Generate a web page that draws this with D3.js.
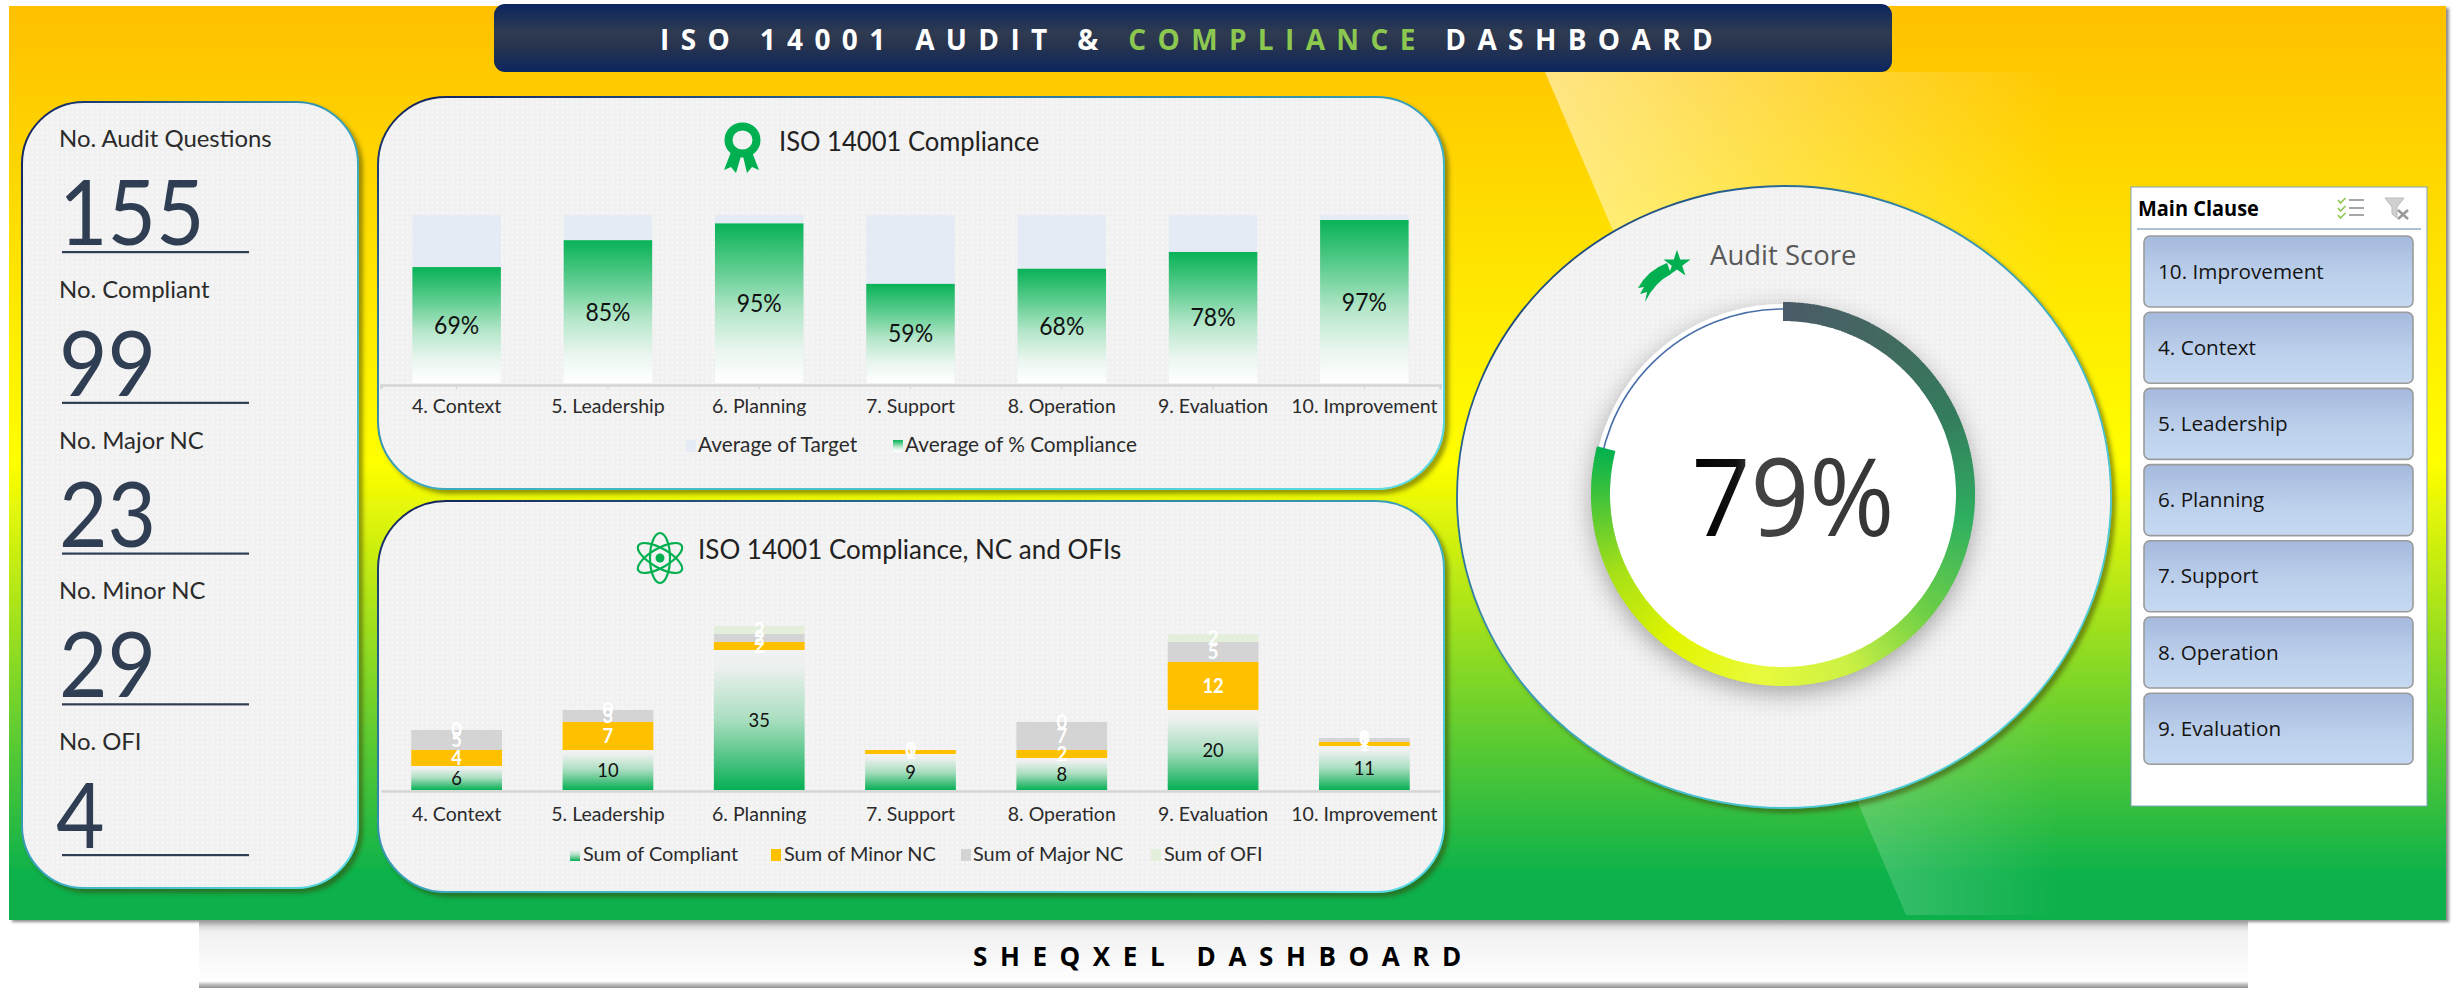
<!DOCTYPE html>
<html><head><meta charset="utf-8">
<script src="https://cdn.jsdelivr.net/npm/d3@7"></script>
<style>html,body{margin:0;padding:0;background:#fff;overflow:hidden}svg{display:block}</style>
</head><body><div id="c"></div>
<script>
// ---------- data ----------
const categories = ["4. Context","5. Leadership","6. Planning","7. Support","8. Operation","9. Evaluation","10. Improvement"];
const target = [100,100,100,100,100,100,100];
const compliance = [69,85,95,59,68,78,97];
const sumCompliant = [6,10,35,9,8,20,11];
const sumMinor = [4,7,2,1,2,12,1];
const sumMajor = [5,3,2,0,7,5,1];
const sumOFI = [0,0,2,0,0,2,0];
const kpiLabels = ["No. Audit Questions","No. Compliant","No. Major NC","No. Minor NC","No. OFI"];
const kpiValues = [155,99,23,29,4];
const slicerItems = ["10. Improvement","4. Context","5. Leadership","6. Planning","7. Support","8. Operation","9. Evaluation"];
const auditScore = 79;

const W=2460,H=998, GREEN="#00B050", SLATE="#2F3E52";
const geo='Lato, sans-serif', ui='"Open Sans", sans-serif';
const svg=d3.select("#c").append("svg").attr("width",W).attr("height",H).attr("viewBox",`0 0 ${W} ${H}`);
const defs=svg.append("defs");
function grad(id,stops,o={}){const g=defs.append("linearGradient").attr("id",id)
  .attr("x1",o.x1||0).attr("y1",o.y1||0).attr("x2",o.x2===undefined?0:o.x2).attr("y2",o.y2===undefined?1:o.y2);
  stops.forEach(s=>g.append("stop").attr("offset",s[0]).attr("stop-color",s[1]).attr("stop-opacity",s[2]===undefined?1:s[2]));return `url(#${id})`;}
const bgFill=grad("bg",[[0,"#FFC000"],[.5,"#FFFF00"],[.96,"#08B04C"],[1,"#08B04C"]]);
const titleFill=grad("tb",[[0,"#0A2560"],[.42,"#2F3B50"],[.62,"#27344F"],[1,"#0B2660"]]);
const footFill=grad("ft",[[0,"#9b9b9b"],[.08,"#d8d8d8"],[.16,"#f1f1f1"],[.9,"#ffffff"],[.95,"#bdbdbd"],[1,"#8f8f8f"]]);
const borderStroke=grad("bd",[[0,"#141F5A"],[.25,"#2A6C96"],[.6,"#40B8C8"],[1,"#5CDDE6"]],{x2:1,y2:1});
const beam=grad("bm",[[0,"#fff",.52],[.45,"#fff",.28],[1,"#fff",0]],{x2:1,y2:0});
const barDown=grad("bd1",[[0,"#08B257"],[.3,"#62CE92"],[.55,"#B4E6C9"],[.8,"#EAF6EF"],[1,"#ffffff"]]);
const barUp=grad("bu1",[[0,"#F2F2F2"],[.12,"#ECF0EE"],[.5,"#A9DEC0"],[.8,"#49C17F"],[1,"#05B054"]]);
const btnFill=grad("bt",[[0,"#A4B9DC"],[.55,"#BCD0EC"],[1,"#C6D9F1"]]);
const numFill=grad("nf",[[0,"#000"],[.22,"#111"],[.3,"#444"],[1,"#333"]],{x2:1,y2:0});
const dots=defs.append("pattern").attr("id","dots").attr("width",5).attr("height",5).attr("patternUnits","userSpaceOnUse");
dots.append("rect").attr("width",5).attr("height",5).attr("fill","#F1F1F1");
dots.append("circle").attr("cx",2.5).attr("cy",2.5).attr("r",1.05).attr("fill","#FBFBFB");
const sh=defs.append("filter").attr("id","sh").attr("x","-10%").attr("y","-10%").attr("width","120%").attr("height","120%");
sh.append("feDropShadow").attr("dx",4).attr("dy",4).attr("stdDeviation",2).attr("flood-color","#3a3a00").attr("flood-opacity",.5);
const sh2=defs.append("filter").attr("id","sh2").attr("x","-20%").attr("y","-20%").attr("width","140%").attr("height","140%");
sh2.append("feDropShadow").attr("dx",0).attr("dy",8).attr("stdDeviation",13).attr("flood-color","#000").attr("flood-opacity",.36);
const sh3=defs.append("filter").attr("id","sh3").attr("x","-5%").attr("y","-5%").attr("width","110%").attr("height","110%");
sh3.append("feDropShadow").attr("dx",3).attr("dy",2).attr("stdDeviation",1.5).attr("flood-color","#333").attr("flood-opacity",.55);

function txt(g,x,y,s,o={}){return g.append("text").attr("transform",`translate(${x},${y}) scale(${o.sx||1},1)`)
  .attr("text-anchor",o.anchor||"start").attr("font-family",o.font||geo).attr("font-size",o.size||18)
  .attr("font-weight",o.weight||400).attr("fill",o.fill||"#222").attr("letter-spacing",o.ls||0).text(s);}

// ---------- background ----------
svg.append("rect").attr("x",9).attr("y",6).attr("width",2437).attr("height",914).attr("fill",bgFill).attr("filter","url(#sh3)");
svg.append("path").attr("d","M1545,72L2060,72L2060,915L1906,915Z").attr("fill",beam);

// ---------- title & footer ----------
svg.append("rect").attr("x",494).attr("y",4).attr("width",1398).attr("height",68).attr("rx",11).attr("fill",titleFill);
const tt=svg.append("text").attr("x",660).attr("y",50).attr("font-family",ui).attr("font-weight",700)
  .attr("font-size",28).attr("letter-spacing",11.36).attr("fill","#fff").attr("xml:space","preserve");
tt.append("tspan").text("ISO 14001 AUDIT & ");
tt.append("tspan").attr("fill","#8CC850").text("COMPLIANCE");
tt.append("tspan").text(" DASHBOARD");
svg.append("rect").attr("x",199).attr("y",921).attr("width",2049).attr("height",67).attr("fill",footFill);
txt(svg,973,966,"SHEQXEL DASHBOARD",{font:ui,weight:700,size:26,ls:12.6,fill:"#000"});

// ---------- panels ----------
function panel(x,y,w,h,r){svg.append("rect").attr("x",x).attr("y",y).attr("width",w).attr("height",h).attr("rx",r).attr("ry",r)
  .attr("fill","url(#dots)").attr("stroke",borderStroke).attr("stroke-width",2).attr("filter","url(#sh)");}
panel(22,102,336,786,62);
panel(378,97,1066,392,68);
panel(378,501,1066,391,68);

// ---------- KPIs ----------
const kpiY=d3.scaleLinear().domain([0,4]).range([0,603]);
kpiLabels.forEach((l,i)=>{const dy=kpiY(i),g=svg.append("g");
  txt(g,59,147+dy,l,{size:23,fill:"#2b2b2b",sx:1.04});
  txt(g,i===4?56:59,245+dy,kpiValues[i],{size:92,weight:400,fill:SLATE,font:geo,sx:.91});
  g.append("rect").attr("x",62).attr("y",251+dy).attr("width",187).attr("height",2.2).attr("fill",SLATE);
});

// ---------- chart 1 ----------
const x1=d3.scaleBand().domain(categories).range([381,1440]).paddingInner(.415).paddingOuter(.2075);
const y1=d3.scaleLinear().domain([0,100]).range([383,215]);
const c1=svg.append("g");
c1.selectAll(".t").data(target).join("rect").attr("x",(d,i)=>x1(categories[i])).attr("width",x1.bandwidth())
  .attr("y",d=>y1(d)).attr("height",d=>y1(0)-y1(d)).attr("fill","#E5EBF4");
c1.selectAll(".c").data(compliance).join("rect").attr("x",(d,i)=>x1(categories[i])).attr("width",x1.bandwidth())
  .attr("y",d=>y1(d)).attr("height",d=>y1(0)-y1(d)).attr("fill",barDown);
compliance.forEach((d,i)=>txt(c1,x1(categories[i])+x1.bandwidth()/2,(y1(d)+y1(0))/2+9,d+"%",{anchor:"middle",size:25,fill:"#111",sx:.92}));
function axis(y,tick,pad){const g=svg.append("g").attr("transform",`translate(0,${y})`)
  .call(d3.axisBottom(x1).tickSize(tick).tickPadding(pad));
  g.select(".domain").attr("stroke","#D4D4D4").attr("stroke-width",2.5);
  g.selectAll(".tick line").attr("stroke","#D4D4D4");
  g.selectAll("text").attr("font-family",geo).attr("font-size",19.5).attr("fill","#2b2b2b");}
axis(385,4,10);
txt(svg,779,151,"ISO 14001 Compliance",{size:26,fill:"#222",sx:.985});

function legend(items,y,size){items.forEach(it=>{svg.append("rect").attr("x",it.sx).attr("y",y-12).attr("width",it.w||10).attr("height",12).attr("fill",it.fill);
  txt(svg,it.tx,y,it.t,{size,fill:"#2b2b2b"});});}
legend([{sx:686,tx:698,t:"Average of Target",fill:"#E5EBF4"},{sx:893,tx:905,t:"Average of % Compliance",fill:barDown}],452,20.8);

// ---------- chart 2 ----------
const keys=["c","mi","ma","o"];
const rows=categories.map((n,i)=>({n,c:sumCompliant[i],mi:sumMinor[i],ma:sumMajor[i],o:sumOFI[i]}));
const stack=d3.stack().keys(keys)(rows);
const y2=d3.scaleLinear().domain([0,45]).range([790,610]);
const x2=x1.copy().paddingInner(.4).paddingOuter(.2);
const fills={c:barUp,mi:"#FFC000",ma:"#D4D4D4",o:"#E3EFDA"};
const c2=svg.append("g");
stack.forEach(s=>{c2.selectAll(".s"+s.key).data(s).join("rect")
  .attr("x",d=>x2(d.data.n)).attr("width",x2.bandwidth()).attr("y",d=>y2(d[1])).attr("height",d=>y2(d[0])-y2(d[1])).attr("fill",fills[s.key]);});
stack.forEach(s=>s.forEach(d=>{txt(c2,x2(d.data.n)+x2.bandwidth()/2,(y2(d[0])+y2(d[1]))/2+7,d[1]-d[0],
  {anchor:"middle",size:20,weight:s.key==="c"?400:700,fill:s.key==="c"?"#111":"#fff",sx:.92});}));
axis(791,0,16);
txt(svg,698,559,"ISO 14001 Compliance, NC and OFIs",{size:26,fill:"#222",sx:1});
legend([{sx:570,tx:583,t:"Sum of Compliant",fill:barUp},{sx:771,tx:784,t:"Sum of Minor NC",fill:"#FFC000"},
  {sx:961,tx:973,t:"Sum of Major NC",fill:"#D4D4D4"},{sx:1151,tx:1164,t:"Sum of OFI",fill:"#E3EFDA"}],861,19.9);

// ---------- icons ----------
const ic=svg.append("g").attr("fill",GREEN);
ic.append("path").attr("d","M731,152L724,170L731,167L736,173L741,156ZM752,152L759,170L752,167L747,173L743,156Z");
ic.append("ellipse").attr("cx",742.5).attr("cy",140).attr("rx",14).attr("ry",13.5).attr("fill","none").attr("stroke",GREEN).attr("stroke-width",8);
const at=svg.append("g").attr("transform","translate(660,558)").attr("fill","none").attr("stroke",GREEN).attr("stroke-width",2.2);
[0,60,-60].forEach(a=>at.append("ellipse").attr("rx",10).attr("ry",25).attr("transform",`rotate(${a}) scale(${a?.95:1},1)`));
at.append("circle").attr("r",4.5).attr("fill",GREEN).attr("stroke","none");

// ---------- gauge ----------
const gc={x:1783,y:494};
svg.append("ellipse").attr("cx",1784).attr("cy",497).attr("rx",327).attr("ry",311)
  .attr("fill","url(#dots)").attr("stroke",borderStroke).attr("stroke-width",1.8).attr("filter","url(#sh)");
const gauge=svg.append("g").attr("transform",`translate(${gc.x},${gc.y})`);
gauge.append("circle").attr("r",190).attr("fill","#fff").attr("filter","url(#sh2)");
gauge.append("circle").attr("r",185).attr("fill","#fff").attr("stroke","#4A6FA8").attr("stroke-width",1.6);
const ringColor=d3.scaleLinear().domain([0,.1,.18,.27,.36,.44,.52,.6,.68,.79]).range(
  ["#4B5B68","#416B5F","#347C5D","#2FAF60","#6FD046","#CBF044","#E9FA3C","#E2F500","#A6E018","#00B050"]);
const ang=d3.scaleLinear().domain([0,100]).range([0,2*Math.PI]);
const arc=d3.arc().innerRadius(173).outerRadius(192);
const segs=d3.range(0,auditScore,.25);
gauge.selectAll(".r").data(segs).join("path").attr("d",d=>arc({startAngle:ang(d),endAngle:ang(Math.min(d+.32,auditScore))}))
  .attr("fill",d=>ringColor(d/100));
txt(svg,1793,536,auditScore+"%",{anchor:"middle",font:ui,weight:400,size:108,fill:numFill,sx:.955});
txt(svg,1710,265,"Audit Score",{font:ui,size:27.5,fill:"#595959"});
svg.append("path").attr("transform","translate(1677,264)").attr("d",d3.symbol(d3.symbolStar,230)()).attr("fill",GREEN);
svg.append("path").attr("d","M1667,263Q1648,270 1638,288L1644,287L1640,294L1647,292L1645,302Q1655,282 1671,274Z").attr("fill",GREEN);

// ---------- slicer ----------
svg.append("rect").attr("x",2131).attr("y",187).attr("width",296).attr("height",619).attr("fill","#fff").attr("stroke","#7FA0BE").attr("stroke-width",1);
txt(svg,2138,216,"Main Clause",{font:ui,weight:700,size:21,fill:"#000",sx:.95});
svg.append("line").attr("x1",2137).attr("x2",2421).attr("y1",229).attr("y2",229).attr("stroke","#5B84A8").attr("stroke-width",1);
const ms=svg.append("g");
[201,209,216].forEach(y=>{ms.append("path").attr("d",`M${2338},${y-1}l2.5,3l5,-5`).attr("fill","none").attr("stroke","#8CC850").attr("stroke-width",1.6);
  ms.append("line").attr("x1",2349).attr("x2",2364).attr("y1",y-1).attr("y2",y-1).attr("stroke","#777").attr("stroke-width",1.3);});
svg.append("path").attr("d","M2385,198L2404,198L2397,207L2397,218L2392,214L2392,207Z").attr("fill","#D0D0D0").attr("stroke","#BBB");
svg.append("path").attr("d","M2398,210L2408,219M2408,210L2398,219").attr("stroke","#9A9A9A").attr("stroke-width",2.6);
const yS=d3.scaleBand().domain(slicerItems).range([236,236+76.2*7]);
slicerItems.forEach(s=>{
  svg.append("rect").attr("x",2144).attr("y",yS(s)).attr("width",269).attr("height",71).attr("rx",6).attr("fill",btnFill).attr("stroke","#9B9B9B").attr("stroke-width",1.6);
  txt(svg,2158,yS(s)+42.5,s,{font:ui,size:20.7,fill:"#141414"});
});
</script></body></html>
